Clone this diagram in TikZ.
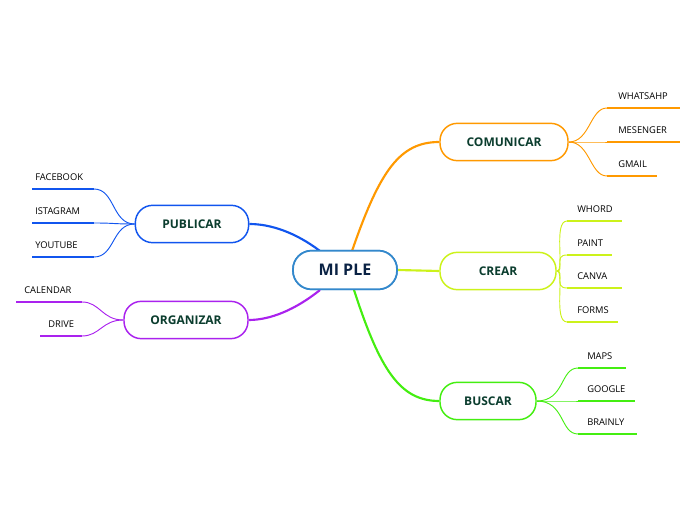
\documentclass[tikz,border=0pt]{standalone}
\usepackage{fontspec}
\setmainfont{Open Sans}
\begin{document}
\begin{tikzpicture}[x=0.75pt,y=-0.75pt]
\definecolor{cO}{HTML}{FF9900}\definecolor{cY}{HTML}{CCF21A}\definecolor{cG}{HTML}{44EE11}
\definecolor{cB}{HTML}{1155EE}\definecolor{cP}{HTML}{AA22EE}\definecolor{cC}{HTML}{3388CC}
\definecolor{tN}{HTML}{0A2244}\definecolor{tG}{HTML}{0B3D2E}
\tikzset{main/.style={draw=cC,line width=1.3pt,rounded corners=14pt,fill=white,minimum width=78pt,minimum height=29pt,font=\bfseries\large,text=tN},
br/.style={draw=#1,line width=1.1pt,rounded corners=13pt,fill=white,minimum height=28pt,font=\bfseries\small,text=tG},
lf/.style={font=\fontsize{7}{8}\selectfont,anchor=west,inner sep=0pt},
ul/.style={line width=2pt,#1},
thin/.style={line width=0.7pt,#1}}
\useasboundingbox (0,0) rectangle (696,520);
% branches
\node[br=cO,minimum width=96pt] (com) at (504,142) {COMUNICAR};
\node[br=cY,minimum width=87pt] (cre) at (498,271) {CREAR};
\node[br=cG,minimum width=72pt] (bus) at (488,401) {BUSCAR};
\node[br=cB,minimum width=85pt] (pub) at (192,224) {PUBLICAR};
\node[br=cP,minimum width=93pt] (org) at (186,320) {ORGANIZAR};
\node[main] (c) at (345,270) {MI PLE};
\begin{scope}[on background layer/.style={}]
\end{scope}
\draw[cO,line width=1.6pt] (352,251) .. controls (380,170) and (400,142) .. (com.west);
\draw[cY,line width=1.6pt] (c.east) -- (cre.west);
\draw[cG,line width=1.6pt] (354,290) .. controls (380,370) and (400,401) .. (bus.west);
\draw[cB,line width=1.6pt] (320,251) .. controls (295,232) and (270,224) .. (pub.east);
\draw[cP,line width=1.6pt] (320,290) .. controls (295,310) and (270,320) .. (org.east);
\node[main] at (345,270) {MI PLE};
% leaves
\foreach \t/\y/\e in {WHATSAHP/108/680,MESENGER/142/680,GMAIL/176/657}{
 \coordinate (a) at (607,\y); \coordinate (b) at (\e,\y);
 \draw[ul=cO] (a) -- (b);
 \draw[thin=cO] (com.east) .. controls (590,142) and (590,\y) .. (a);
 \node[lf] at (618,\y-12) {\t};}
\foreach \t/\y/\e in {WHORD/221/622,PAINT/255/612,CANVA/288/622,FORMS/322/618}{
 \coordinate (a) at (567,\y); \coordinate (b) at (\e,\y);
 \draw[ul=cY] (a) -- (b);
 \draw[thin=cY] (cre.east) -- (547+10,271) .. controls (565,271) and (553,\y) .. (a);
 \node[lf] at (577,\y-12) {\t};}
\foreach \t/\y/\e in {MAPS/368/626,GOOGLE/401/635,BRAINLY/434/637}{
 \coordinate (a) at (578,\y); \coordinate (b) at (\e,\y);
 \draw[ul=cG] (a) -- (b);
 \draw[thin=cG] (bus.east) .. controls (565,401) and (560,\y) .. (a);
 \node[lf] at (587,\y-12) {\t};}
\foreach \t/\y in {FACEBOOK/189,ISTAGRAM/223,YOUTUBE/257}{
 \coordinate (a) at (94,\y); \coordinate (b) at (32,\y);
 \draw[ul=cB] (a) -- (b);
 \draw[thin=cB] (pub.west) .. controls (112,224) and (115,\y) .. (a);
 \node[lf] at (35,\y-12) {\t};}
\foreach \t/\y/\s/\x in {CALENDAR/302/16/24,DRIVE/336/40/48}{
 \coordinate (a) at (82,\y); \coordinate (b) at (\s,\y);
 \draw[ul=cP] (a) -- (b);
 \draw[thin=cP] (org.west) .. controls (102,320) and (100,\y) .. (a);
 \node[lf] at (\x,\y-12) {\t};}
\end{tikzpicture}
\end{document}
